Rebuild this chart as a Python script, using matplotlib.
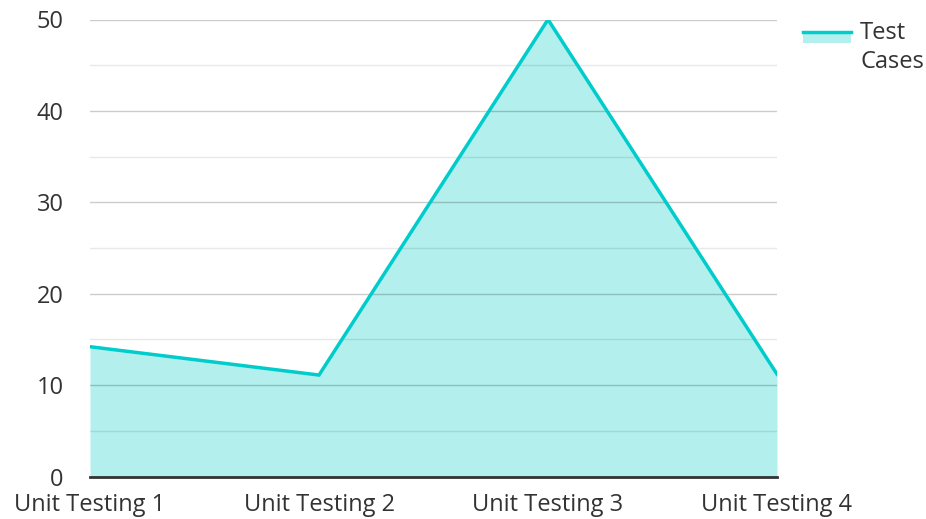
import matplotlib
matplotlib.use("Agg")
import matplotlib.pyplot as plt
import matplotlib.patches as mpatches
import matplotlib.lines as mlines
import numpy as np

plt.rcParams["font.family"] = ["Open Sans", "DejaVu Sans"]

categories = ["Unit Testing 1", "Unit Testing 2", "Unit Testing 3", "Unit Testing 4"]
test_cases = [14.2, 11.1, 50, 11.2]
series_name = "Test\nCases"

line_color = "#00cccc"
fill_color = "#b2efed"
text_color = "#333333"
fs = 17

fig = plt.figure(figsize=(9.26, 5.19), dpi=100)
ax = fig.add_axes([90 / 926, 42.5 / 519, 687 / 926, 457 / 519])

x = np.arange(len(categories))
ax.fill_between(x, test_cases, 0, color=fill_color, lw=0, zorder=1)
ax.plot(x, test_cases, color=line_color, lw=2.5, zorder=3, solid_joinstyle="miter")

ax.set_xlim(0, len(categories) - 1)
ax.set_ylim(0, 50)
ax.set_yticks(np.arange(0, 51, 10))
ax.set_yticks(np.arange(5, 50, 10), minor=True)
ax.set_xticks(x)
ax.set_xticklabels(categories)

# gridlines drawn over the fill
ax.set_axisbelow(False)
ax.grid(axis="y", which="major", color="#000000", alpha=0.2, lw=1, zorder=2)
ax.grid(axis="y", which="minor", color="#000000", alpha=0.09, lw=1, zorder=2)

for side in ["top", "right", "left"]:
    ax.spines[side].set_visible(False)
ax.spines["bottom"].set_color(text_color)
ax.spines["bottom"].set_linewidth(2)
ax.spines["bottom"].set_zorder(4)

ax.tick_params(axis="both", which="both", length=0, labelsize=fs, colors=text_color)
ax.tick_params(axis="y", pad=19)
ax.tick_params(axis="x", pad=12)

# legend, drawn by hand
fig.add_artist(mpatches.Rectangle((803 / 926, 1 - 43 / 519), 48 / 926, 12 / 519,
                                  transform=fig.transFigure, color=fill_color, lw=0))
fig.add_artist(mlines.Line2D([803 / 926, 851 / 926], [1 - 32 / 519, 1 - 32 / 519],
                             transform=fig.transFigure, color=line_color, lw=2.5))
fig.text(860 / 926, 1 - 21 / 519, series_name, ha="left", va="top",
         fontsize=fs, color=text_color, linespacing=1.3)

fig.savefig("out.png", dpi=100)
